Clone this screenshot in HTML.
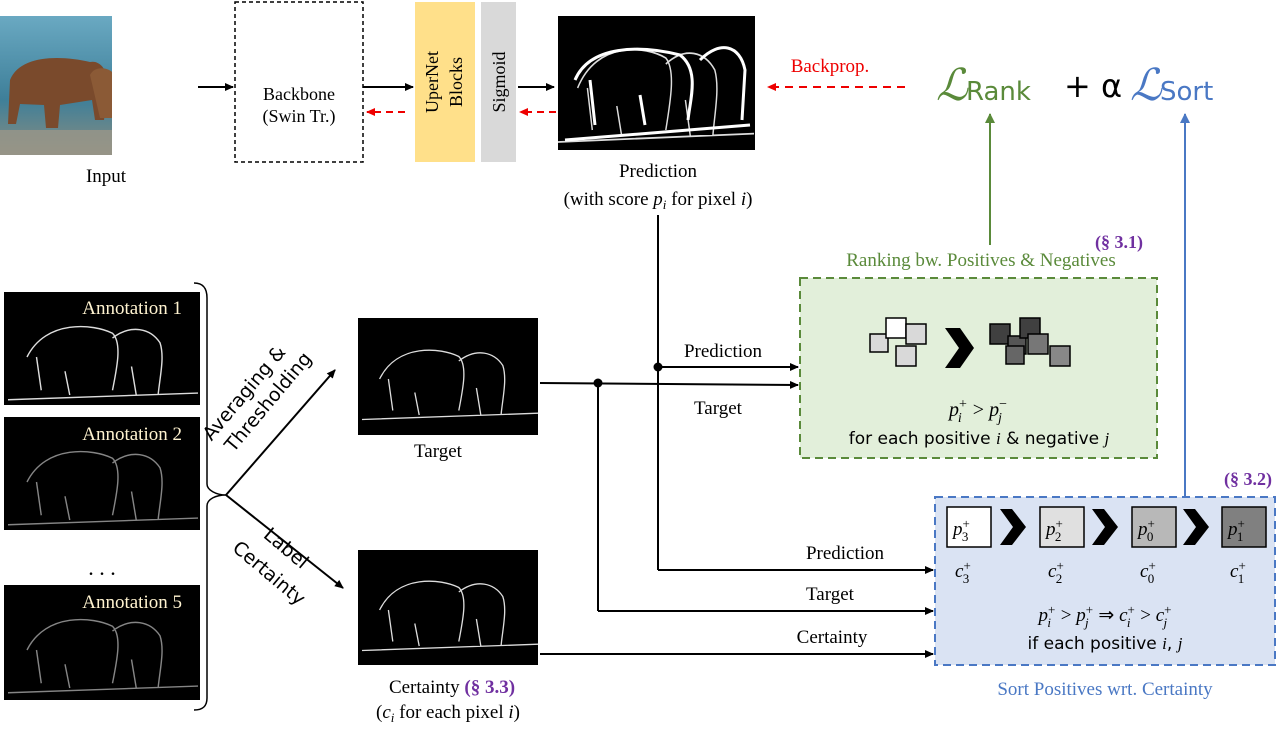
<!DOCTYPE html>
<html><head><meta charset="utf-8">
<style>
html,body{margin:0;padding:0;background:#fff;}
svg{display:block;}
text{font-family:"Liberation Serif",serif;}
.s{font-family:"DejaVu Sans","Liberation Sans",sans-serif;}
</style></head><body>
<svg width="1276" height="729" viewBox="0 0 1276 729" xmlns="http://www.w3.org/2000/svg">
<defs>
<marker id="ak" markerWidth="10" markerHeight="10" refX="8" refY="5" orient="auto" markerUnits="userSpaceOnUse"><path d="M0,1 L9,5 L0,9 z" fill="#000"/></marker>
<marker id="ar" markerWidth="10" markerHeight="10" refX="8" refY="5" orient="auto" markerUnits="userSpaceOnUse"><path d="M0,1 L9,5 L0,9 z" fill="#e00"/></marker>
<marker id="ag" markerWidth="12" markerHeight="12" refX="9" refY="6" orient="auto" markerUnits="userSpaceOnUse"><path d="M0,1 L10,6 L0,11 z" fill="#5a8a3a"/></marker>
<marker id="ab" markerWidth="12" markerHeight="12" refX="9" refY="6" orient="auto" markerUnits="userSpaceOnUse"><path d="M0,1 L10,6 L0,11 z" fill="#4a78c4"/></marker>
<linearGradient id="wat" x1="0" y1="0" x2="0" y2="1"><stop offset="0" stop-color="#6aa9c2"/><stop offset="0.6" stop-color="#3e7f99"/><stop offset="1" stop-color="#8a8d80"/></linearGradient>
<g id="bear" fill="none" stroke="#ddd" stroke-width="1.5">
<path d="M20,60 C40,20 90,25 110,35 C120,45 115,70 110,95 M30,60 L35,95 M60,75 L65,100 M110,40 C130,25 150,30 160,45 C165,60 160,80 158,100 M130,70 L135,100 M0,105 L200,98"/>
</g>
</defs>

<rect x="0" y="16" width="112" height="139" fill="url(#wat)"/>
<path d="M10,80 C20,55 60,55 90,62 C100,60 108,70 108,85 L104,120 L95,120 L92,100 L60,105 L58,128 L46,128 L44,105 L20,104 L16,124 L8,124 z" fill="#7a4a2c"/>
<path d="M90,75 C95,65 108,68 112,72 L112,118 L100,118 z" fill="#8b5a36"/>
<rect x="0" y="130" width="112" height="25" fill="#9a9688" opacity="0.8"/>
<text x="106" y="182" font-size="19" text-anchor="middle">Input</text>
<line x1="198" y1="87" x2="233" y2="87" stroke="#000" stroke-width="2" marker-end="url(#ak)"/>

<rect x="235" y="2" width="128" height="160" fill="none" stroke="#000" stroke-width="1.5" stroke-dasharray="4,3"/>
<text x="299" y="100" font-size="18" text-anchor="middle">Backbone</text>
<text x="299" y="122" font-size="18" text-anchor="middle">(Swin Tr.)</text>
<line x1="405" y1="112" x2="367" y2="112" stroke="#e00" stroke-width="2" stroke-dasharray="7,5" marker-end="url(#ar)"/>
<line x1="363" y1="87" x2="413" y2="87" stroke="#000" stroke-width="2" marker-end="url(#ak)"/>

<rect x="415" y="2" width="60" height="160" fill="#ffe08a"/>
<text transform="translate(438,82) rotate(-90)" font-size="18" text-anchor="middle">UperNet</text>
<text transform="translate(462,82) rotate(-90)" font-size="18" text-anchor="middle">Blocks</text>
<rect x="481" y="2" width="35" height="160" fill="#d9d9d9"/>
<text transform="translate(505,82) rotate(-90)" font-size="18" text-anchor="middle">Sigmoid</text>
<line x1="518" y1="87" x2="554" y2="87" stroke="#000" stroke-width="2" marker-end="url(#ak)"/>
<line x1="556" y1="112" x2="520" y2="112" stroke="#e00" stroke-width="2" stroke-dasharray="7,5" marker-end="url(#ar)"/>

<rect x="558" y="16" width="197" height="134" fill="#000"/>
<g transform="translate(558,16) scale(0.98,1.2)"><use href="#bear"/></g>
<g fill="none" stroke="#fff" stroke-width="3"><path d="M575,80 C590,45 640,45 680,55 C700,70 690,100 688,120 M590,80 L595,125 M640,95 L645,125 M700,60 C720,40 740,45 745,70 L742,120 M565,140 L750,125"/></g>
<text x="658" y="177" font-size="19" text-anchor="middle">Prediction</text>
<text x="658" y="205" font-size="19" text-anchor="middle">(with score <tspan font-style="italic">p<tspan font-size="13" dy="4">i</tspan></tspan><tspan dy="-4"> for pixel </tspan><tspan font-style="italic">i</tspan>)</text>

<line x1="905" y1="87" x2="768" y2="87" stroke="#e00" stroke-width="2" stroke-dasharray="8,6" marker-end="url(#ar)"/>
<text x="830" y="72" font-size="19" fill="#e00" text-anchor="middle">Backprop.</text>

<text x="936" y="100" font-size="44" fill="#5a8a3a" font-family="DejaVu Serif,serif" font-style="italic">ℒ</text>
<text x="966" y="100" font-size="26" fill="#5a8a3a" class="s">Rank</text>
<text x="1064" y="97" font-size="32" class="s">+ α</text>
<text x="1130" y="100" font-size="44" fill="#4a78c4" font-family="DejaVu Serif,serif" font-style="italic">ℒ</text>
<text x="1160" y="100" font-size="26" fill="#4a78c4" class="s">Sort</text>

<line x1="990" y1="245" x2="990" y2="114" stroke="#5a8a3a" stroke-width="2" marker-end="url(#ag)"/>
<line x1="1185" y1="522" x2="1185" y2="114" stroke="#4a78c4" stroke-width="2" marker-end="url(#ab)"/>

<text x="1143" y="248" font-size="18" fill="#7030a0" font-weight="bold" text-anchor="end">(§ 3.1)</text>
<text x="981" y="266" font-size="19" fill="#5a8a3a" text-anchor="middle">Ranking bw. Positives &amp; Negatives</text>
<rect x="800" y="278" width="357" height="180" fill="#e2efda" stroke="#5a8a3a" stroke-width="2" stroke-dasharray="8,5"/>
<g stroke="#000" stroke-width="1.5" fill="#d9d9d9">
<rect x="870" y="334" width="18" height="18"/><rect x="886" y="318" width="20" height="20" fill="#fff"/><rect x="906" y="324" width="20" height="20"/><rect x="896" y="346" width="20" height="20"/>
</g>
<path d="M945,328 L960,328 L974,348 L960,368 L945,368 L959,348 z" fill="#000"/>
<g stroke="#000" stroke-width="1.5" fill="#555">
<rect x="990" y="324" width="20" height="20" fill="#404040"/><rect x="1008" y="336" width="18" height="18"/><rect x="1020" y="318" width="20" height="20" fill="#404040"/><rect x="1028" y="334" width="20" height="20" fill="#777"/><rect x="1006" y="346" width="18" height="18" fill="#666"/><rect x="1050" y="346" width="20" height="20" fill="#888"/>
</g>
<text x="978" y="416" font-size="20" text-anchor="middle" font-style="italic">p<tspan font-size="14" dy="-8" font-style="normal">+</tspan><tspan font-size="14" dx="-9" dy="14">i</tspan><tspan font-style="normal" dy="-6" dx="6"> &gt; </tspan>p<tspan font-size="14" dy="-8" font-style="normal">−</tspan><tspan font-size="14" dx="-9" dy="14">j</tspan></text>
<text x="979" y="444" font-size="17" text-anchor="middle" class="s">for each positive <tspan font-style="italic" font-family="Liberation Serif">i</tspan> &amp; negative <tspan font-style="italic" font-family="Liberation Serif">j</tspan></text>

<g>
<rect x="4" y="292" width="196" height="113" fill="#000"/>
<g transform="translate(8,300) scale(0.95,0.95)"><use href="#bear"/></g>
<text x="182" y="314" font-size="19" fill="#fff3d0" text-anchor="end">Annotation 1</text>
<rect x="4" y="417" width="196" height="113" fill="#000"/>
<g transform="translate(8,425) scale(0.95,0.95)" opacity="0.6"><use href="#bear"/></g>
<text x="182" y="440" font-size="19" fill="#fff3d0" text-anchor="end">Annotation 2</text>
<text x="102" y="575" font-size="22" text-anchor="middle">. . .</text>
<rect x="4" y="585" width="196" height="115" fill="#000"/>
<g transform="translate(8,593) scale(0.95,0.95)" opacity="0.6"><use href="#bear"/></g>
<text x="182" y="608" font-size="19" fill="#fff3d0" text-anchor="end">Annotation 5</text>
</g>
<path d="M194,283 C203,283 207,288 207,298 L207,484 C207,490 216,495 226,495 C216,495 207,499 207,506 L207,698 C207,706 203,710 194,710" fill="none" stroke="#000" stroke-width="1.5"/>
<line x1="226" y1="495" x2="335" y2="370" stroke="#000" stroke-width="2" marker-end="url(#ak)"/>
<line x1="226" y1="495" x2="343" y2="588" stroke="#000" stroke-width="2" marker-end="url(#ak)"/>
<text transform="translate(249,397) rotate(-50)" font-size="19" text-anchor="middle" class="s">Averaging &amp;</text>
<text transform="translate(273,406) rotate(-50)" font-size="19" text-anchor="middle" class="s">Thresholding</text>
<text transform="translate(282,553) rotate(40)" font-size="19" text-anchor="middle" class="s">Label</text>
<text transform="translate(265,578) rotate(40)" font-size="19" text-anchor="middle" class="s">Certainty</text>

<rect x="358" y="318" width="180" height="117" fill="#000"/>
<g transform="translate(362,325) scale(0.88,0.9)"><use href="#bear"/></g>
<text x="438" y="457" font-size="19" text-anchor="middle">Target</text>
<rect x="358" y="550" width="180" height="115" fill="#000"/>
<g transform="translate(362,556) scale(0.88,0.9)"><use href="#bear"/></g>
<text x="452" y="693" font-size="19" text-anchor="middle">Certainty <tspan fill="#7030a0" font-weight="bold">(§ 3.3)</tspan></text>
<text x="448" y="718" font-size="19" text-anchor="middle">(<tspan font-style="italic">c<tspan font-size="13" dy="4">i</tspan></tspan><tspan dy="-4"> for each pixel </tspan><tspan font-style="italic">i</tspan>)</text>

<line x1="658" y1="215" x2="658" y2="570" stroke="#000" stroke-width="2"/>
<circle cx="658" cy="367" r="4.5" fill="#000"/>
<line x1="658" y1="367" x2="798" y2="367" stroke="#000" stroke-width="2" marker-end="url(#ak)"/>
<text x="723" y="357" font-size="19" text-anchor="middle">Prediction</text>
<line x1="540" y1="383" x2="798" y2="385" stroke="#000" stroke-width="2" marker-end="url(#ak)"/>
<text x="718" y="414" font-size="19" text-anchor="middle">Target</text>
<circle cx="598" cy="383" r="4.5" fill="#000"/>
<line x1="598" y1="383" x2="598" y2="611" stroke="#000" stroke-width="2"/>
<line x1="658" y1="570" x2="933" y2="570" stroke="#000" stroke-width="2" marker-end="url(#ak)"/>
<text x="845" y="559" font-size="19" text-anchor="middle">Prediction</text>
<line x1="598" y1="611" x2="933" y2="611" stroke="#000" stroke-width="2" marker-end="url(#ak)"/>
<text x="830" y="600" font-size="19" text-anchor="middle">Target</text>
<line x1="540" y1="654" x2="933" y2="654" stroke="#000" stroke-width="2" marker-end="url(#ak)"/>
<text x="832" y="643" font-size="19" text-anchor="middle">Certainty</text>

<text x="1272" y="485" font-size="18" fill="#7030a0" font-weight="bold" text-anchor="end">(§ 3.2)</text>
<rect x="935" y="497" width="340" height="168" fill="#dae3f3" stroke="#4a78c4" stroke-width="2" stroke-dasharray="8,5"/>
<text x="1105" y="695" font-size="19" fill="#4a78c4" text-anchor="middle">Sort Positives wrt. Certainty</text>
<g stroke="#000" stroke-width="1.5">
<rect x="947" y="507" width="44" height="40" fill="#fff"/>
<rect x="1040" y="507" width="44" height="40" fill="#e0e0e0"/>
<rect x="1132" y="507" width="44" height="40" fill="#b8b8b8"/>
<rect x="1222" y="507" width="44" height="40" fill="#808080"/>
</g>
<g fill="#000">
<path d="M1000,509 L1012,509 L1026,527 L1012,545 L1000,545 L1013,527 z"/>
<path d="M1092,509 L1104,509 L1118,527 L1104,545 L1092,545 L1105,527 z"/>
<path d="M1183,509 L1195,509 L1209,527 L1195,545 L1183,545 L1196,527 z"/>
</g>
<g font-size="19" font-style="italic">
<text x="953" y="535">p<tspan font-size="13" dy="-7" font-style="normal">+</tspan><tspan font-size="13" dx="-8" dy="13" font-style="normal">3</tspan></text>
<text x="1046" y="535">p<tspan font-size="13" dy="-7" font-style="normal">+</tspan><tspan font-size="13" dx="-8" dy="13" font-style="normal">2</tspan></text>
<text x="1138" y="535">p<tspan font-size="13" dy="-7" font-style="normal">+</tspan><tspan font-size="13" dx="-8" dy="13" font-style="normal">0</tspan></text>
<text x="1228" y="535">p<tspan font-size="13" dy="-7" font-style="normal">+</tspan><tspan font-size="13" dx="-8" dy="13" font-style="normal">1</tspan></text>
<text x="955" y="577">c<tspan font-size="13" dy="-7" font-style="normal">+</tspan><tspan font-size="13" dx="-8" dy="13" font-style="normal">3</tspan></text>
<text x="1048" y="577">c<tspan font-size="13" dy="-7" font-style="normal">+</tspan><tspan font-size="13" dx="-8" dy="13" font-style="normal">2</tspan></text>
<text x="1140" y="577">c<tspan font-size="13" dy="-7" font-style="normal">+</tspan><tspan font-size="13" dx="-8" dy="13" font-style="normal">0</tspan></text>
<text x="1230" y="577">c<tspan font-size="13" dy="-7" font-style="normal">+</tspan><tspan font-size="13" dx="-8" dy="13" font-style="normal">1</tspan></text>
</g>
<text x="1105" y="621" font-size="19" text-anchor="middle" font-style="italic">p<tspan font-size="13" dy="-7" font-style="normal">+</tspan><tspan font-size="13" dx="-8" dy="13">i</tspan><tspan font-style="normal" dy="-6" dx="5"> &gt; </tspan>p<tspan font-size="13" dy="-7" font-style="normal">+</tspan><tspan font-size="13" dx="-8" dy="13">j</tspan><tspan font-style="normal" dy="-6" dx="5"> ⇒ </tspan>c<tspan font-size="13" dy="-7" font-style="normal">+</tspan><tspan font-size="13" dx="-8" dy="13">i</tspan><tspan font-style="normal" dy="-6" dx="5"> &gt; </tspan>c<tspan font-size="13" dy="-7" font-style="normal">+</tspan><tspan font-size="13" dx="-8" dy="13">j</tspan></text>
<text x="1105" y="649" font-size="17" text-anchor="middle" class="s">if each positive <tspan font-style="italic" font-family="Liberation Serif">i</tspan>, <tspan font-style="italic" font-family="Liberation Serif">j</tspan></text>
</svg>
</body></html>
